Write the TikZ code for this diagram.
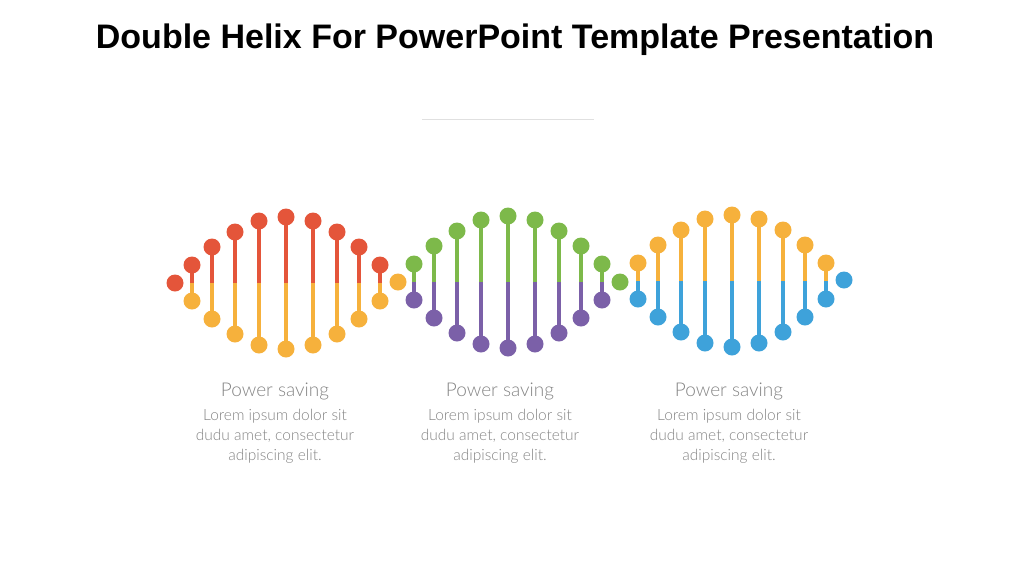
\documentclass[tikz,border=0pt]{standalone}
\usepackage{fontspec}
\setmainfont{Liberation Sans}
\newfontfamily\latofont{Lato Light}
\definecolor{cred}{HTML}{E4553A}
\definecolor{corange}{HTML}{F6B13C}
\definecolor{cgreen}{HTML}{7DB94A}
\definecolor{cpurple}{HTML}{7B60A8}
\definecolor{cblue}{HTML}{3EA2DA}
\definecolor{ctext}{HTML}{848484}
\begin{document}
\begin{tikzpicture}[x=1pt,y=-1pt,
  stem/.style={line width=4.2pt},
  dot/.style={circle,inner sep=0pt,minimum size=17pt},
  head/.style={font=\latofont\fontsize{19}{22}\selectfont,text=ctext},
  body/.style={font=\latofont\fontsize{15.5}{20}\selectfont,text=ctext,align=center}]
\useasboundingbox (0,0) rectangle (1024,576);
\node[font=\bfseries\fontsize{34}{40}\selectfont] (title) at (515,40) {Double Helix For PowerPoint Template Presentation};
\coordinate (la) at (422,119); \coordinate (lb) at (594,119);
\draw[black!12,line width=0.6pt] (la) -- (lb);
\newcommand\myhelix[5]{%
  \foreach \dx/\h [count=\i] in {0/18,20/36,43/51,67/62,94/66,121/62,145/51,167/36,188/18}{
    \coordinate (#5t\i) at (#1+\dx,#4-\h);
    \coordinate (#5m\i) at (#1+\dx,#4);
    \coordinate (#5b\i) at (#1+\dx,#4+\h);
    \draw[stem,#2] (#5t\i) -- (#5m\i);
    \draw[stem,#3] (#5m\i) -- (#5b\i);
    \node[dot,fill=#2] (#5T\i) at (#5t\i) {};
    \node[dot,fill=#3] (#5B\i) at (#5b\i) {};
  }}
\node[dot,fill=cred] (e0) at (175,283) {};
\myhelix{192}{cred}{corange}{283}{a}
\node[dot,fill=corange] (e1) at (398,282) {};
\myhelix{414}{cgreen}{cpurple}{282}{b}
\node[dot,fill=cgreen] (e2) at (620,282) {};
\myhelix{638}{corange}{cblue}{281}{c}
\node[dot,fill=cblue] (e3) at (844,280) {};
\foreach \x/\n in {275/p,500/q,729/r}{
  \node[head] (\n h) at (\x,391) {Power saving};
  \node[body,anchor=north] (\n b) at (\x,406) {Lorem ipsum dolor sit\\dudu amet, consectetur\\adipiscing elit.};
}
\end{tikzpicture}
\end{document}
